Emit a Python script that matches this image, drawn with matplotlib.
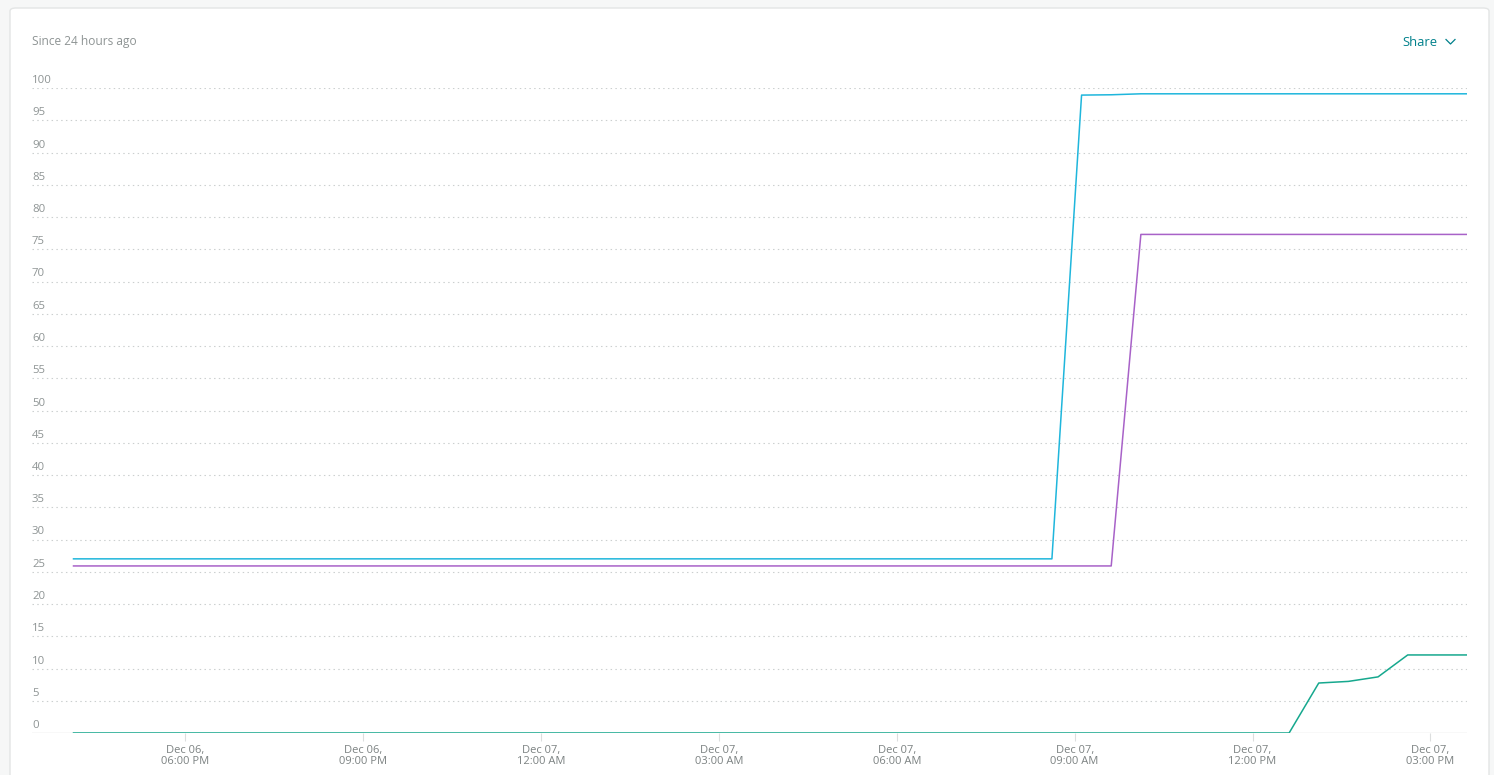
import numpy as np
import pandas as pd
import matplotlib
matplotlib.use("Agg")
import matplotlib.pyplot as plt
import matplotlib.dates as mdates
from matplotlib.patches import FancyBboxPatch
from matplotlib.lines import Line2D
from matplotlib.transforms import offset_copy

plt.rcParams['font.family'] = ['Open Sans', 'DejaVu Sans']

# breakpoints of each series (time, value)
cyan_t = ["2023-12-06 16:07", "2023-12-07 08:37", "2023-12-07 09:07",
          "2023-12-07 09:37", "2023-12-07 10:07", "2023-12-07 15:37"]
cyan_v = [27.0, 27.0, 98.9, 98.95, 99.1, 99.1]

purple_t = ["2023-12-06 16:07", "2023-12-07 09:37", "2023-12-07 10:07",
            "2023-12-07 15:37"]
purple_v = [25.9, 25.9, 77.3, 77.3]

teal_t = ["2023-12-06 16:07", "2023-12-07 12:37", "2023-12-07 13:07",
          "2023-12-07 13:37", "2023-12-07 14:07", "2023-12-07 14:37",
          "2023-12-07 15:07", "2023-12-07 15:37"]
teal_v = [0, 0, 7.75, 8.0, 8.7, 12.1, 12.1, 12.1]

y_ticks = list(range(0, 101, 5))
x_ticks = pd.date_range("2023-12-06 18:00", "2023-12-07 15:00", freq="3h")

W, H = 1494, 775
fig = plt.figure(figsize=(W / 100, H / 100), dpi=100)
fig.patch.set_facecolor('#f6f7f7')

# white card behind everything
card = FancyBboxPatch((10 / W, -0.05), 1479 / W, 0.05 + (H - 8) / H,
                      boxstyle="round,pad=0,rounding_size=0.004",
                      transform=fig.transFigure, facecolor='white',
                      edgecolor='#e3e5e5', linewidth=1, zorder=-10)
fig.patches.append(card)

fig.text(32 / W, 1 - 42 / H, "Since 24 hours ago", color='#8e9494',
         fontsize=8.6, va='center', ha='left')
fig.text(1437 / W, 1 - 42 / H, "Share", color='#00808b',
         fontsize=9.4, va='center', ha='right')
# chevron next to Share
fig.lines.append(Line2D([1446 / W, 1450.5 / W, 1455 / W],
                        [1 - 39.5 / H, 1 - 44 / H, 1 - 39.5 / H],
                        transform=fig.transFigure, color='#00808b', lw=0.9))

ax = fig.add_axes([32 / W, (H - 733) / H, (1467 - 32) / W, (733 - 88) / H])
ax.set_facecolor('none')

lw = 1.1
ax.plot(pd.to_datetime(cyan_t), cyan_v, color='#1fb6dc', lw=lw)
ax.plot(pd.to_datetime(purple_t), purple_v, color='#a862c8', lw=lw)
ax.plot(pd.to_datetime(teal_t), teal_v, color='#16a88e', lw=lw)

ax.set_ylim(0, 100)
ax.set_xlim(pd.Timestamp("2023-12-06 15:25"), pd.Timestamp("2023-12-07 15:37"))

for s in ax.spines.values():
    s.set_visible(False)

ax.set_yticks(y_ticks)
ax.set_yticklabels([])
ax.tick_params(axis='y', length=0)
for v in y_ticks:
    if v == 0:
        ax.axhline(v, color='#dcdede', lw=1, zorder=0)
    else:
        ax.axhline(v, color='#cbcfcf', lw=0.8, ls=(0, (1.3, 3.0)), zorder=0)
lab_tr = offset_copy(ax.get_yaxis_transform(), fig=fig, x=0, y=2, units='dots')
for v in y_ticks:
    ax.text(0, v, str(v), transform=lab_tr, ha='left', va='bottom',
            color='#8e9494', fontsize=8.2)

ax.set_xticks(x_ticks)
ax.xaxis.set_major_formatter(mdates.DateFormatter("%b %d,\n%I:%M %p"))
ax.tick_params(axis='x', length=6, width=0.8, color='#dcdede', pad=3,
               labelcolor='#7c8282', labelsize=8)
for lab in ax.get_xticklabels():
    lab.set_linespacing(1.0)

fig.savefig("out.png", dpi=100, facecolor=fig.get_facecolor())
